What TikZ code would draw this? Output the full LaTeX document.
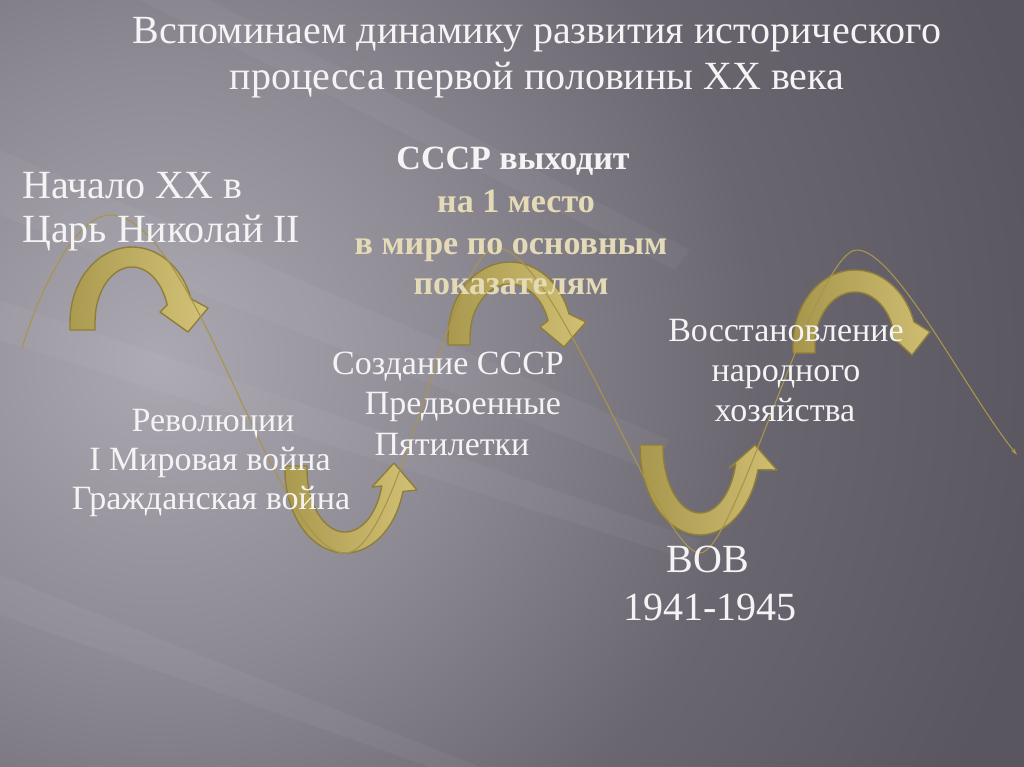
\documentclass[tikz,border=0pt]{standalone}
\usepackage{fontspec}
\setmainfont{Liberation Serif}
\usetikzlibrary{arrows.meta}
\definecolor{bgA}{HTML}{ACA8B2}
\definecolor{bgB}{HTML}{8E8A94}
\definecolor{bgC}{HTML}{6A6670}
\definecolor{bgD}{HTML}{5A5660}
\definecolor{arrowL}{HTML}{AC9B4A}
\definecolor{arrowR}{HTML}{D8C672}
\definecolor{arrowEdge}{HTML}{8E7E3A}
\definecolor{waveCol}{HTML}{A8944A}
\definecolor{txtW}{HTML}{F4F4F4}
\definecolor{txtTan}{HTML}{E4DAB6}
\pgfdeclareradialshading{bgglow}{\pgfpoint{0bp}{0bp}}{color(0bp)=(bgA); color(7.5bp)=(bgB); color(15bp)=(bgC); color(22.5bp)=(bgD); color(50bp)=(bgD)}
\tikzset{
  bendarrow/.style={draw=arrowEdge, line width=1.4pt, line join=round, left color=arrowL, right color=arrowR, fill opacity=0.92},
  wave/.style={draw=waveCol, line width=1.1pt},
  ttl/.style={text=txtW, font=\fontsize{40}{46}\selectfont, anchor=base, inner sep=0pt},
  big/.style={text=txtW, font=\fontsize{40}{44}\selectfont, inner sep=0pt},
  mid/.style={text=txtW, font=\fontsize{34}{40}\selectfont, anchor=base, inner sep=0pt},
  boldw/.style={text=txtW, font=\bfseries\fontsize{34}{40}\selectfont, anchor=base, inner sep=0pt},
  boldt/.style={text=txtTan, font=\bfseries\fontsize{34}{40}\selectfont, anchor=base, inner sep=0pt},
  streak/.style={fill=white, fill opacity=0.04}
}
\begin{document}
\begin{tikzpicture}[x=1pt,y=-1pt]
\useasboundingbox (0,0) rectangle (1024,767);
% background
\begin{scope}
\clip (0,0) rectangle (1024,767);
\fill[bgD] (0,0) rectangle (1024,767);
\shade[shading=bgglow] (-840,-640) rectangle (1160,1360);
\fill[streak] (0,150) -- (0,215) -- (650,470) -- (670,440) -- cycle;
\fill[streak] (0,300) -- (0,340) -- (690,560) -- (700,540) -- cycle;
\fill[streak] (0,575) -- (0,615) -- (430,767) -- (480,767) -- cycle;
\fill[streak] (140,0) -- (210,0) -- (690,250) -- (675,270) -- cycle;
\end{scope}
% curved block arrows
\path[bendarrow] (70,330) -- plot[domain=180:342, samples=40] ({132+62*cos(\x)},{322+75*sin(\x)})
  -- (208,308) -- (188,332) -- (160,312)
  -- plot[domain=342:180, samples=40] ({132+37*cos(\x)},{322+55*sin(\x)}) -- (95,330) -- cycle;
\path[bendarrow] (285,466) -- plot[domain=180:15, samples=40] ({345+60*cos(\x)},{470+83*sin(\x)})
  -- (417,490) -- (394,463) -- (372,487)
  -- plot[domain=15:180, samples=40] ({345+38*cos(\x)},{470+62*sin(\x)}) -- (307,466) -- cycle;
\path[bendarrow] (448,345) -- plot[domain=180:342, samples=40] ({510+62*cos(\x)},{337+75*sin(\x)})
  -- (586,322) -- (564,347) -- (540,327)
  -- plot[domain=342:180, samples=40] ({510+40*cos(\x)},{337+53*sin(\x)}) -- (470,345) -- cycle;
\path[bendarrow] (640,445) -- plot[domain=180:15, samples=40] ({700+60*cos(\x)},{447+88*sin(\x)})
  -- (777,470) -- (755,445) -- (729,468)
  -- plot[domain=15:180, samples=40] ({700+37*cos(\x)},{447+66*sin(\x)}) -- (663,445) -- cycle;
\path[bendarrow] (793,353) -- plot[domain=180:342, samples=40] ({855+62*cos(\x)},{345+75*sin(\x)})
  -- (930,332) -- (912,355) -- (890,335)
  -- plot[domain=342:180, samples=40] ({855+40*cos(\x)},{345+53*sin(\x)}) -- (815,353) -- cycle;
% wave line
\coordinate (w0) at (22,348);
\coordinate (w1) at (110,215);
\coordinate (w2) at (345,553);
\coordinate (w3) at (497,248);
\coordinate (w4) at (700,553);
\coordinate (w5) at (857,250);
\coordinate (w6) at (1017,455);
\draw[wave, -{Stealth[length=7pt,width=4pt]}] (w0) .. controls (45,275) and (80,215) .. (w1)
  .. controls (195,215) and (275,553) .. (w2)
  .. controls (400,553) and (450,248) .. (w3)
  .. controls (555,248) and (660,553) .. (w4)
  .. controls (735,553) and (815,250) .. (w5)
  .. controls (895,250) and (965,390) .. (w6);
% texts
\node[ttl] (t1) at (537,44) {Вспоминаем динамику развития исторического};
\node[ttl] (t2) at (537,90) {процесса первой половины XX века};
\node[big, anchor=base west] (n1) at (22,199) {Начало XX в};
\node[big, anchor=base west] (n2) at (22,242) {Царь Николай II};
\node[boldw] (s1) at (513,170) {СССР выходит};
\node[boldt] (s2) at (516,213) {на 1 место};
\node[boldt] (s3) at (511,254) {в мире по основным};
\node[boldt] (s4) at (511,294) {показателям};
\node[mid] (c1) at (448,374) {Создание СССР};
\node[mid] (c2) at (463,414) {Предвоенные};
\node[mid] (c3) at (452,455) {Пятилетки};
\node[mid] (r1) at (213,431) {Революции};
\node[mid] (r2) at (210,470) {I Мировая война};
\node[mid] (r3) at (211,509) {Гражданская война};
\node[mid] (v1) at (786,341) {Восстановление};
\node[mid] (v2) at (786,381) {народного};
\node[mid] (v3) at (785,421) {хозяйства};
\node[big, anchor=base] (b1) at (708,572) {ВОВ};
\node[big, anchor=base] (b2) at (710,620) {1941-1945};
\end{tikzpicture}
\end{document}
